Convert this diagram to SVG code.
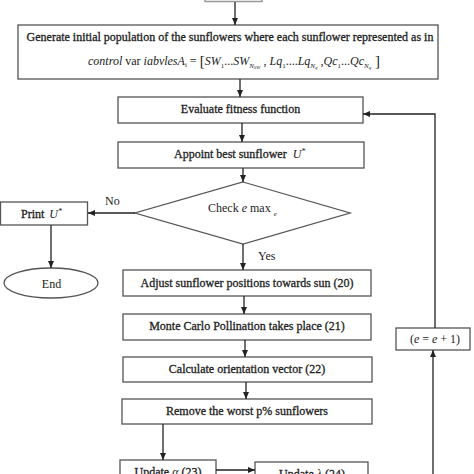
<svg xmlns="http://www.w3.org/2000/svg" width="474" height="474" viewBox="0 0 474 474">
<style>
.box{fill:#fff;stroke:#555;stroke-width:1.3}
.ln{fill:none;stroke:#222;stroke-width:1.3}
.t{font-family:"Liberation Serif","Times New Roman",serif;font-size:12px;fill:#222;stroke:#222;stroke-width:0.3}
.r{font-family:"Liberation Serif","Times New Roman",serif;font-size:12px;fill:#222}
.m{font-family:"Liberation Serif","Times New Roman",serif;font-size:12px;fill:#222}
.i{font-style:italic;stroke:none}
</style>
<defs>
<marker id="ah" markerUnits="userSpaceOnUse" markerWidth="7" markerHeight="6" refX="7" refY="3" orient="auto">
<path d="M0,0 L7,3 L0,6 z" fill="#222"/>
</marker>
</defs>
<rect x="0" y="0" width="474" height="474" fill="#fff"/>

<g id="start"><rect x="205" y="-20" width="57" height="21.5" fill="#fff" stroke="#999" stroke-width="1.5"/></g>

<g id="init">
<rect class="box" x="18" y="25" width="420" height="54"/>
<text class="t" x="230" y="41" text-anchor="middle" font-size="11.4">Generate initial population of the sunflowers where each sunflower represented as in</text>
<text class="m" x="88" y="65"><tspan font-style="italic">control</tspan> var <tspan font-style="italic">iabvles</tspan><tspan font-style="italic">A</tspan><tspan font-size="7" dy="2">i</tspan><tspan dy="-2"> = </tspan><tspan font-size="15" dy="1">[</tspan><tspan font-style="italic" dy="-1">SW</tspan><tspan font-size="7" dy="2.5">1</tspan><tspan dy="-2.5">...</tspan><tspan font-style="italic">SW</tspan><tspan font-size="7" font-style="italic" dy="2.5">N</tspan><tspan font-size="5" font-style="italic" dy="1.5">SW</tspan><tspan dy="-4"> , </tspan><tspan font-style="italic">Lq</tspan><tspan font-size="7" dy="2.5">1</tspan><tspan dy="-2.5">....</tspan><tspan font-style="italic">Lq</tspan><tspan font-size="7" font-style="italic" dy="2.5">N</tspan><tspan font-size="5" font-style="italic" dy="1.5">q</tspan><tspan dy="-4"> ,</tspan><tspan font-style="italic">Qc</tspan><tspan font-size="7" dy="2.5">1</tspan><tspan dy="-2.5">...</tspan><tspan font-style="italic">Qc</tspan><tspan font-size="7" font-style="italic" dy="2.5">N</tspan><tspan font-size="5" font-style="italic" dy="1.5">q</tspan><tspan font-size="15" dy="-3"> ]</tspan></text>
</g>

<g id="evaluate">
<rect class="box" x="118" y="97" width="245" height="26"/>
<text class="t" x="240.5" y="113" text-anchor="middle">Evaluate fitness function</text>
</g>

<g id="appoint">
<rect class="box" x="118" y="142" width="246" height="26"/>
<text class="t" x="174" y="158">Appoint best sunflower <tspan class="i" dx="3">U</tspan><tspan class="i" font-size="8" dy="-4">*</tspan></text>
</g>

<g id="check">
<polygon class="box" points="243,182 350,213 243,244 135,213"/>
<text class="r" x="208" y="212">Check <tspan font-style="italic">e</tspan> max<tspan font-style="italic" font-size="7" dx="3" dy="4">e</tspan></text>
</g>

<g id="print">
<rect class="box" x="0.5" y="202" width="87" height="23"/>
<text class="t" x="21" y="218">Print <tspan class="i" dx="2">U</tspan><tspan class="i" font-size="8" dy="-4">*</tspan></text>
</g>

<g id="end">
<ellipse class="box" cx="51" cy="283" rx="47" ry="15"/>
<text class="r" x="51.5" y="288" text-anchor="middle">End</text>
</g>

<g id="adjust">
<rect class="box" x="123" y="270" width="248" height="26"/>
<text class="t" x="247" y="287" text-anchor="middle">Adjust sunflower positions towards sun (20)</text>
</g>

<g id="monte">
<rect class="box" x="123" y="314" width="248" height="26"/>
<text class="t" x="247" y="330" text-anchor="middle">Monte Carlo Pollination takes place (21)</text>
</g>

<g id="orient">
<rect class="box" x="123" y="357" width="249" height="25"/>
<text class="t" x="247" y="373" text-anchor="middle">Calculate orientation vector (22)</text>
</g>

<g id="remove">
<rect class="box" x="122" y="399" width="250" height="25"/>
<text class="t" x="247" y="415" text-anchor="middle">Remove the worst p% sunflowers</text>
</g>

<g id="update1">
<rect class="box" x="120" y="460" width="96" height="30"/>
<text class="t" x="168" y="476" text-anchor="middle">Update <tspan class="i">α</tspan> (23)</text>
</g>

<g id="update2">
<rect class="box" x="255" y="462" width="113" height="30"/>
<text class="t" x="312" y="478" text-anchor="middle">Update <tspan class="i">λ</tspan> (24)</text>
</g>

<g id="incr">
<rect class="box" x="396" y="328" width="74" height="22"/>
<text class="r" x="435" y="343" text-anchor="middle">(<tspan font-style="italic">e</tspan> = <tspan font-style="italic">e</tspan> + 1)</text>
</g>

<g id="connectors">
<path class="ln" d="M235,2 V25" marker-end="url(#ah)"/>
<path class="ln" d="M240,79 V97" marker-end="url(#ah)"/>
<path class="ln" d="M242,123 V142" marker-end="url(#ah)"/>
<path class="ln" d="M243,168 V182" marker-end="url(#ah)"/>
<path class="ln" d="M135,213 H88" marker-end="url(#ah)"/>
<path class="ln" d="M51,225 V268" marker-end="url(#ah)"/>
<path class="ln" d="M243,244 V270" marker-end="url(#ah)"/>
<path class="ln" d="M244,296 V314" marker-end="url(#ah)"/>
<path class="ln" d="M245,340 V357" marker-end="url(#ah)"/>
<path class="ln" d="M246,382 V399" marker-end="url(#ah)"/>
<path class="ln" d="M163,424 V460" marker-end="url(#ah)"/>
<path class="ln" d="M216,470 H255" marker-end="url(#ah)"/>
<path class="ln" d="M435,328 V114 H363" marker-end="url(#ah)"/>
<path class="ln" d="M433,474 V350" marker-end="url(#ah)"/>
<text class="r" x="105" y="205">No</text>
<text class="r" x="258" y="260">Yes</text>
</g>
</svg>
